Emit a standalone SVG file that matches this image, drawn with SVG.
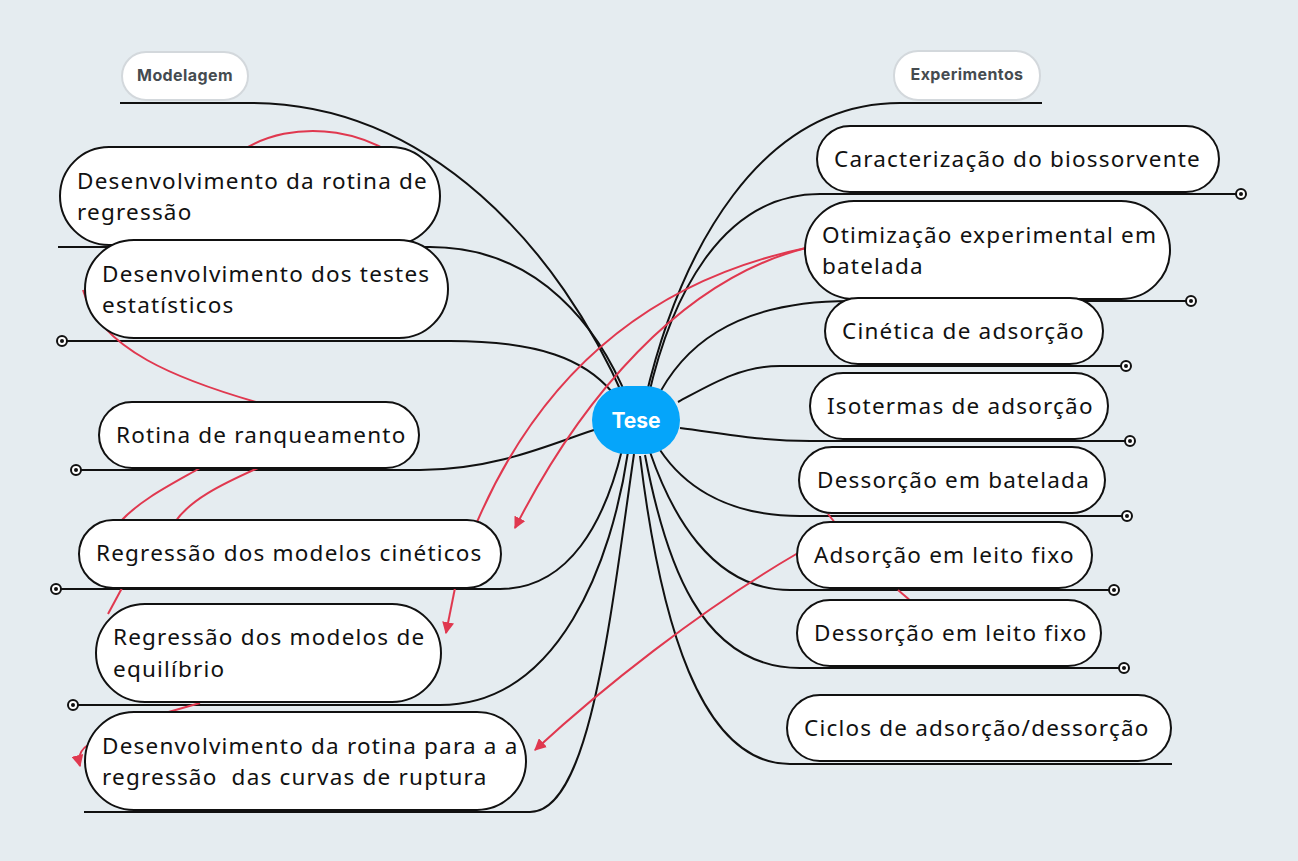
<svg xmlns="http://www.w3.org/2000/svg" width="1298" height="861" viewBox="0 0 1298 861">
<defs>
<style>
.n rect{fill:#fff;stroke:#111;stroke-width:2}
.n text{font-family:"Noto Sans","Liberation Sans",sans-serif;font-size:22.5px;letter-spacing:1.2px;fill:#111}
.h rect{fill:#fff;stroke:#d3d8dc;stroke-width:2}
.h text{font-family:"Inter","Liberation Sans",sans-serif;font-size:16px;letter-spacing:0.4px;font-weight:bold;fill:#454b50}
.b{fill:none;stroke:#111;stroke-width:2}
.r{fill:none;stroke:#e0384f;stroke-width:2}
.ra{fill:none;stroke:#e0384f;stroke-width:2;marker-end:url(#ar)}
.dot{fill:#fff;stroke:#111;stroke-width:2}
</style>
<marker id="ar" viewBox="0 0 10 10" refX="9" refY="5" markerWidth="6" markerHeight="6" orient="auto"><path d="M0,0 L10,5 L0,10 z" fill="#e0384f"/></marker>
</defs>
<rect width="1298" height="861" fill="#e5ecf0"/>
<g id="connectors">
<path class="b" d="M120 103 L250 103 C430 103 560 250 625 400"/>
<path class="b" d="M58 247 L430 247 C540 247 600 330 628 400"/>
<path class="b" d="M62 341 L450 341 C540 341 585 360 612 392"/>
<path class="b" d="M76 470 L420 470 C500 470 560 440 600 428"/>
<path class="b" d="M56 589 L500 589 C570 589 605 520 622 450"/>
<path class="b" d="M73 705 L440 705 C560 705 612 560 628 452"/>
<path class="b" d="M84 812 L530 812 C590 812 610 620 634 454"/>
<path class="b" d="M1042 103 L900 103 C760 103 680 250 645 400"/>
<path class="b" d="M1241 194 L820 194 C720 194 670 300 648 398"/>
<path class="b" d="M1191 301 L850 301 C730 301 680 350 655 402"/>
<path class="b" d="M1126 366 L780 366 C740 366 710 385 678 402"/>
<path class="b" d="M1130 441 L810 441 C760 441 720 433 680 428"/>
<path class="b" d="M1127 516 L800 516 C720 516 680 480 660 450"/>
<path class="b" d="M1114 590 L790 590 C710 590 670 510 650 452"/>
<path class="b" d="M1124 668 L800 668 C700 668 665 560 645 455"/>
<path class="b" d="M1172 764 L790 764 C700 764 660 620 640 456"/>
<circle class="dot" cx="62" cy="341" r="5"/><circle cx="62" cy="341" r="2" fill="#111"/>
<circle class="dot" cx="76" cy="470" r="5"/><circle cx="76" cy="470" r="2" fill="#111"/>
<circle class="dot" cx="56" cy="589" r="5"/><circle cx="56" cy="589" r="2" fill="#111"/>
<circle class="dot" cx="73" cy="705" r="5"/><circle cx="73" cy="705" r="2" fill="#111"/>
<circle class="dot" cx="1241" cy="194" r="5"/><circle cx="1241" cy="194" r="2" fill="#111"/>
<circle class="dot" cx="1191" cy="301" r="5"/><circle cx="1191" cy="301" r="2" fill="#111"/>
<circle class="dot" cx="1126" cy="366" r="5"/><circle cx="1126" cy="366" r="2" fill="#111"/>
<circle class="dot" cx="1130" cy="441" r="5"/><circle cx="1130" cy="441" r="2" fill="#111"/>
<circle class="dot" cx="1127" cy="516" r="5"/><circle cx="1127" cy="516" r="2" fill="#111"/>
<circle class="dot" cx="1114" cy="590" r="5"/><circle cx="1114" cy="590" r="2" fill="#111"/>
<circle class="dot" cx="1124" cy="668" r="5"/><circle cx="1124" cy="668" r="2" fill="#111"/>
<path class="r" d="M240 152 C290 118 380 120 440 196"/>
<path class="r" d="M83 290 C100 350 180 380 256 402"/>
<path class="r" d="M200 468 C170 485 140 500 120 522"/>
<path class="r" d="M258 468 C220 485 190 500 175 522"/>
<path class="r" d="M122 588 L108 614"/>
<path class="r" d="M200 703 L165 713"/>
<path class="ra" d="M88 745 C80 750 78 758 80 766"/>
<path class="r" d="M477 522 C560 330 700 270 806 248"/>
<path class="ra" d="M806 248 C680 280 580 400 515 528"/>
<path class="ra" d="M455 588 L446 633"/>
<path class="ra" d="M798 553 C700 610 600 690 535 750"/>
<path class="r" d="M828 514 L836 524"/>
<path class="r" d="M898 590 L912 602"/>
</g>
<g id="tese"><rect x="592" y="386" width="88" height="68" rx="34" fill="#05a5fa"/><text x="636" y="428" text-anchor="middle" font-family="Inter,'Liberation Sans',sans-serif" font-size="21" font-weight="bold" fill="#fff">Tese</text></g>
<g id="modelagem" class="h"><rect x="122" y="52" width="126" height="48" rx="24"/><text x="185" y="81" text-anchor="middle">Modelagem</text></g>
<g id="experimentos" class="h"><rect x="894" y="51" width="146" height="49" rx="24"/><text x="967" y="80" text-anchor="middle">Experimentos</text></g>
<g id="n1" class="n"><rect x="60" y="147" width="380" height="98" rx="49"/><text x="77" y="189">Desenvolvimento da rotina de</text><text x="77" y="220">regressão</text></g>
<g id="n2" class="n"><rect x="85" y="240" width="363" height="98" rx="49"/><text x="102" y="282">Desenvolvimento dos testes</text><text x="102" y="313">estatísticos</text></g>
<g id="n3" class="n"><rect x="99" y="402" width="320" height="66" rx="33"/><text x="116" y="443">Rotina de ranqueamento</text></g>
<g id="n4" class="n"><rect x="79" y="520" width="422" height="68" rx="34"/><text x="96" y="561">Regressão dos modelos cinéticos</text></g>
<g id="n5" class="n"><rect x="96" y="604" width="345" height="98" rx="49"/><text x="113" y="645">Regressão dos modelos de</text><text x="113" y="677">equilíbrio</text></g>
<g id="n6" class="n"><rect x="85" y="712" width="441" height="98" rx="49"/><text x="102" y="754">Desenvolvimento da rotina para a a</text><text x="102" y="785" xml:space="preserve">regressão  das curvas de ruptura</text></g>
<g id="e1" class="n"><rect x="817" y="126" width="402" height="66" rx="33"/><text x="834" y="167">Caracterização do biossorvente</text></g>
<g id="e2" class="n"><rect x="805" y="201" width="365" height="98" rx="49"/><text x="822" y="243">Otimização experimental em</text><text x="822" y="274">batelada</text></g>
<g id="e3" class="n"><rect x="825" y="298" width="278" height="66" rx="33"/><text x="842" y="339">Cinética de adsorção</text></g>
<g id="e4" class="n"><rect x="810" y="373" width="298" height="66" rx="33"/><text x="827" y="414">Isotermas de adsorção</text></g>
<g id="e5" class="n"><rect x="799" y="447" width="306" height="66" rx="33"/><text x="817" y="488">Dessorção em batelada</text></g>
<g id="e6" class="n"><rect x="797" y="522" width="295" height="66" rx="33"/><text x="814" y="563">Adsorção em leito fixo</text></g>
<g id="e7" class="n"><rect x="797" y="600" width="304" height="66" rx="33"/><text x="814" y="641">Dessorção em leito fixo</text></g>
<g id="e8" class="n"><rect x="787" y="695" width="384" height="66" rx="33"/><text x="804" y="736">Ciclos de adsorção/dessorção</text></g>
</svg>
